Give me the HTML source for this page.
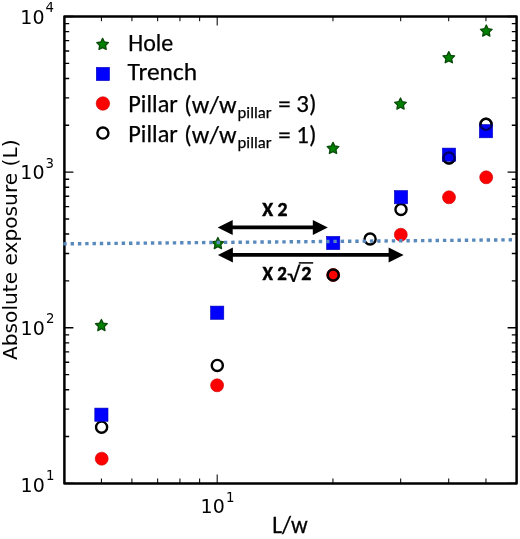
<!DOCTYPE html><html><head><meta charset="utf-8"><title>Absolute exposure vs L/w</title><style>html,body{margin:0;padding:0;background:#fff;}svg{display:block;}.dj{font-family:"DejaVu Sans","Liberation Sans",sans-serif;}.cb{font-family:Carlito,"Liberation Sans",sans-serif;}</style></head><body>
<svg width="520" height="539" viewBox="0 0 520 539">
<rect width="520" height="539" fill="#fff"/>
<path d="M64.40 483.40h9.0M516.60 483.40h-9.0M64.40 436.55h4.8M516.60 436.55h-4.8M64.40 409.14h4.8M516.60 409.14h-4.8M64.40 389.70h4.8M516.60 389.70h-4.8M64.40 374.62h4.8M516.60 374.62h-4.8M64.40 362.29h4.8M516.60 362.29h-4.8M64.40 351.87h4.8M516.60 351.87h-4.8M64.40 342.85h4.8M516.60 342.85h-4.8M64.40 334.89h4.8M516.60 334.89h-4.8M64.40 327.77h9.0M516.60 327.77h-9.0M64.40 280.92h4.8M516.60 280.92h-4.8M64.40 253.51h4.8M516.60 253.51h-4.8M64.40 234.07h4.8M516.60 234.07h-4.8M64.40 218.98h4.8M516.60 218.98h-4.8M64.40 206.66h4.8M516.60 206.66h-4.8M64.40 196.24h4.8M516.60 196.24h-4.8M64.40 187.22h4.8M516.60 187.22h-4.8M64.40 179.25h4.8M516.60 179.25h-4.8M64.40 172.13h9.0M516.60 172.13h-9.0M64.40 125.28h4.8M516.60 125.28h-4.8M64.40 97.88h4.8M516.60 97.88h-4.8M64.40 78.43h4.8M516.60 78.43h-4.8M64.40 63.35h4.8M516.60 63.35h-4.8M64.40 51.03h4.8M516.60 51.03h-4.8M64.40 40.61h4.8M516.60 40.61h-4.8M64.40 31.58h4.8M516.60 31.58h-4.8M64.40 23.62h4.8M516.60 23.62h-4.8M64.40 16.50h9.0M516.60 16.50h-9.0" stroke="#000" stroke-width="1.4" fill="none"/>
<path d="M101.45 483.40v-4.8M101.45 16.50v4.8M131.90 483.40v-4.8M131.90 16.50v4.8M157.64 483.40v-4.8M157.64 16.50v4.8M179.94 483.40v-4.8M179.94 16.50v4.8M199.61 483.40v-4.8M199.61 16.50v4.8M217.20 483.40v-9.0M217.20 16.50v9.0M332.95 483.40v-4.8M332.95 16.50v4.8M400.65 483.40v-4.8M400.65 16.50v4.8M448.69 483.40v-4.8M448.69 16.50v4.8M485.95 483.40v-4.8M485.95 16.50v4.8" stroke="#111" stroke-width="1.1" fill="none"/>
<rect x="64.4" y="16.5" width="452.20" height="466.90" fill="none" stroke="#000" stroke-width="2.5" stroke-linejoin="round"/>
<polygon points="101.40,319.45 103.21,323.11 107.25,323.70 104.32,326.55 105.01,330.58 101.40,328.68 97.79,330.58 98.48,326.55 95.55,323.70 99.59,323.11" fill="#008000" stroke="#0a4a0a" stroke-width="1.3" stroke-linejoin="round"/>
<polygon points="217.90,237.55 219.71,241.21 223.75,241.80 220.82,244.65 221.51,248.68 217.90,246.77 214.29,248.68 214.98,244.65 212.05,241.80 216.09,241.21" fill="#008000" stroke="#0a4a0a" stroke-width="1.3" stroke-linejoin="round"/>
<polygon points="333.00,142.35 334.81,146.01 338.85,146.60 335.92,149.45 336.61,153.48 333.00,151.57 329.39,153.48 330.08,149.45 327.15,146.60 331.19,146.01" fill="#008000" stroke="#0a4a0a" stroke-width="1.3" stroke-linejoin="round"/>
<polygon points="400.50,98.05 402.31,101.71 406.35,102.30 403.42,105.15 404.11,109.18 400.50,107.28 396.89,109.18 397.58,105.15 394.65,102.30 398.69,101.71" fill="#008000" stroke="#0a4a0a" stroke-width="1.3" stroke-linejoin="round"/>
<polygon points="448.80,51.65 450.61,55.31 454.65,55.90 451.72,58.75 452.41,62.78 448.80,60.88 445.19,62.78 445.88,58.75 442.95,55.90 446.99,55.31" fill="#008000" stroke="#0a4a0a" stroke-width="1.3" stroke-linejoin="round"/>
<polygon points="486.30,25.05 488.11,28.71 492.15,29.30 489.22,32.15 489.91,36.18 486.30,34.27 482.69,36.18 483.38,32.15 480.45,29.30 484.49,28.71" fill="#008000" stroke="#0a4a0a" stroke-width="1.3" stroke-linejoin="round"/>
<circle cx="101.70" cy="458.70" r="6.5" fill="#ff0000" stroke="#c80000" stroke-width="0.6"/>
<circle cx="217.10" cy="385.30" r="6.5" fill="#ff0000" stroke="#c80000" stroke-width="0.6"/>
<circle cx="333.20" cy="275.00" r="6.5" fill="#ff0000" stroke="#c80000" stroke-width="0.6"/>
<circle cx="400.80" cy="234.70" r="6.5" fill="#ff0000" stroke="#c80000" stroke-width="0.6"/>
<circle cx="449.00" cy="197.30" r="6.5" fill="#ff0000" stroke="#c80000" stroke-width="0.6"/>
<circle cx="486.20" cy="177.30" r="6.5" fill="#ff0000" stroke="#c80000" stroke-width="0.6"/>
<circle cx="101.60" cy="427.20" r="5.55" fill="none" stroke="#000" stroke-width="2.4" stroke-opacity="1"/>
<circle cx="217.30" cy="365.40" r="5.55" fill="none" stroke="#000" stroke-width="2.4" stroke-opacity="1"/>
<circle cx="333.20" cy="275.00" r="5.55" fill="none" stroke="#000" stroke-width="2.4" stroke-opacity="1"/>
<circle cx="370.10" cy="239.00" r="5.55" fill="none" stroke="#000" stroke-width="2.4" stroke-opacity="1"/>
<circle cx="401.00" cy="209.50" r="5.55" fill="none" stroke="#000" stroke-width="2.4" stroke-opacity="1"/>
<circle cx="449.00" cy="158.00" r="5.55" fill="none" stroke="#000" stroke-width="2.4" stroke-opacity="1"/>
<circle cx="486.00" cy="124.30" r="5.55" fill="none" stroke="#000" stroke-width="2.4" stroke-opacity="1"/>
<rect x="94.80" y="408.10" width="13.2" height="13.2" fill="#0000ff" stroke="#0000b4" stroke-width="0.6"/>
<rect x="210.60" y="306.10" width="13.2" height="13.2" fill="#0000ff" stroke="#0000b4" stroke-width="0.6"/>
<rect x="326.60" y="236.40" width="13.2" height="13.2" fill="#0000ff" stroke="#0000b4" stroke-width="0.6"/>
<rect x="394.40" y="190.60" width="13.2" height="13.2" fill="#0000ff" stroke="#0000b4" stroke-width="0.6"/>
<rect x="442.40" y="148.10" width="13.2" height="13.2" fill="#0000ff" stroke="#0000b4" stroke-width="0.6"/>
<rect x="479.40" y="124.60" width="13.2" height="13.2" fill="#0000ff" stroke="#0000b4" stroke-width="0.6"/>
<circle cx="449.00" cy="158.00" r="5.55" fill="none" stroke="#000" stroke-width="2.4" stroke-opacity="0.6"/>
<circle cx="486.00" cy="124.30" r="5.55" fill="none" stroke="#000" stroke-width="2.4" stroke-opacity="0.6"/>
<line x1="63.3" y1="243.85" x2="512" y2="239.8" stroke="#5889bd" stroke-width="3.4" stroke-dasharray="3.4 3.9"/>
<line x1="231.70" y1="227.4" x2="313.80" y2="227.4" stroke="#000" stroke-width="3.6"/><polygon points="217.70,227.4 232.70,219.9 232.70,234.9" fill="#000"/><polygon points="327.80,227.4 312.80,219.9 312.80,234.9" fill="#000"/>
<line x1="231.90" y1="254.9" x2="389.60" y2="254.9" stroke="#000" stroke-width="3.6"/><polygon points="217.90,254.9 232.90,247.4 232.90,262.4" fill="#000"/><polygon points="403.60,254.9 388.60,247.4 388.60,262.4" fill="#000"/>
<g class="cb" font-weight="bold" font-size="20" fill="#000" stroke="#000" stroke-width="0.5">
<text x="262.3" y="215.6" textLength="25.3" lengthAdjust="spacingAndGlyphs">X 2</text>
<text x="262.6" y="279.7" textLength="24.3" lengthAdjust="spacingAndGlyphs">X 2</text>
<text transform="translate(287.1 281.5) scale(1.25 1.09)" font-size="20" font-weight="normal" stroke-width="0.2">√</text>
<line x1="298.8" y1="262.9" x2="313.2" y2="262.9" stroke="#000" stroke-width="1.5"/>
<text x="301.2" y="279.6">2</text>
</g>
<g class="cb" font-size="25" fill="#000" stroke="#000" stroke-width="0.25">
<text x="128.3" y="51.2" textLength="45" lengthAdjust="spacingAndGlyphs">Hole</text>
<text x="127.6" y="79.9" textLength="69.5" lengthAdjust="spacingAndGlyphs">Trench</text>
<text x="128.3" y="111.8" font-size="24.5" textLength="49.5" lengthAdjust="spacingAndGlyphs">Pillar</text>
<text x="184.3" y="112.6" font-size="24.5" textLength="52.3" lengthAdjust="spacing">(w/w</text>
<text x="237.6" y="117.7" font-size="16.5" textLength="34.0" lengthAdjust="spacingAndGlyphs">pillar</text>
<text x="278.2" y="112.4" textLength="38.3" lengthAdjust="spacingAndGlyphs">= 3)</text>
<text x="128.3" y="142.1" font-size="24.5" textLength="49.5" lengthAdjust="spacingAndGlyphs">Pillar</text>
<text x="184.3" y="142.9" font-size="24.5" textLength="52.3" lengthAdjust="spacing">(w/w</text>
<text x="237.6" y="148.0" font-size="16.5" textLength="34.0" lengthAdjust="spacingAndGlyphs">pillar</text>
<text x="278.2" y="142.7" textLength="38.3" lengthAdjust="spacingAndGlyphs">= 1)</text>
</g>
<polygon points="102.60,38.35 104.41,42.01 108.45,42.60 105.52,45.45 106.21,49.48 102.60,47.58 98.99,49.48 99.68,45.45 96.75,42.60 100.79,42.01" fill="#008000" stroke="#0a4a0a" stroke-width="1.3" stroke-linejoin="round"/>
<rect x="96.30" y="67.40" width="13.2" height="13.2" fill="#0000ff" stroke="#0000b4" stroke-width="0.6"/>
<circle cx="102.90" cy="103.50" r="6.75" fill="#ff0000" stroke="#c80000" stroke-width="0.6"/>
<circle cx="102.90" cy="133.10" r="5.55" fill="none" stroke="#000" stroke-width="2.4" stroke-opacity="1"/>
<text class="cb" x="272.3" y="533.0" font-size="24.5" stroke="#000" stroke-width="0.3" textLength="35.5" lengthAdjust="spacingAndGlyphs">L/w</text>
<text class="dj" transform="translate(17,360) rotate(-90)" font-size="19.8" textLength="220.5" lengthAdjust="spacingAndGlyphs">Absolute exposure (L)</text>
<text class="dj" x="20.3" y="23.8" font-size="19">10</text><text class="dj" x="45.6" y="12.1" font-size="13.3">4</text>
<text class="dj" x="20.3" y="179.3" font-size="19">10</text><text class="dj" x="45.6" y="167.6" font-size="13.3">3</text>
<text class="dj" x="20.6" y="335.0" font-size="19">10</text><text class="dj" x="45.9" y="323.3" font-size="13.3">2</text>
<text class="dj" x="20.6" y="491.5" font-size="19">10</text><text class="dj" x="45.9" y="479.8" font-size="13.3">1</text>
<text class="dj" x="200.6" y="513.3" font-size="19">10</text><text class="dj" x="225.9" y="501.6" font-size="13.3">1</text>
</svg></body></html>
